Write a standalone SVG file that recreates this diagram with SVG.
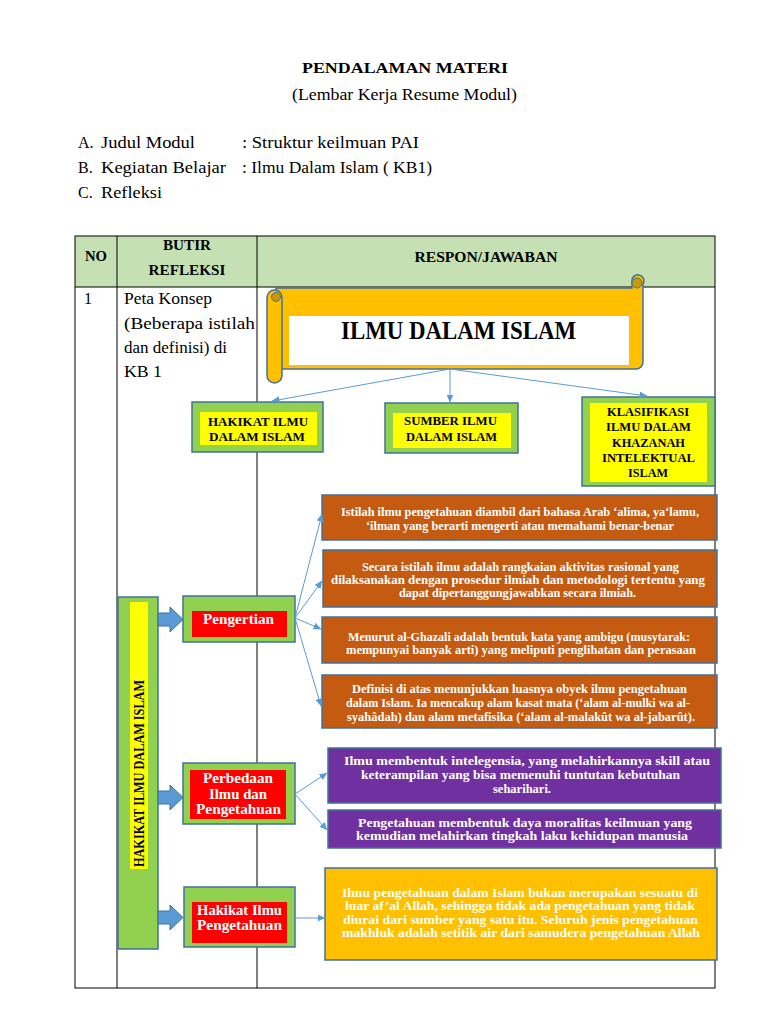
<svg xmlns="http://www.w3.org/2000/svg" width="768" height="1024" viewBox="0 0 768 1024">
<defs>
<style>
.tm{font-family:"Liberation Serif","Times New Roman",serif;fill:#000;font-size:16px}
.tmb{font-family:"Liberation Serif","Times New Roman",serif;fill:#000;font-size:14px;font-weight:bold}
.cb{font-family:"Liberation Serif","DejaVu Serif",serif;font-weight:bold}
.bx{font-family:"Liberation Serif","DejaVu Serif",serif;font-weight:bold;font-size:12.5px;fill:#fff}
.ol{stroke:#41719c;stroke-width:1.5}
.grn{fill:#92d050}
.yel{fill:#ffff00}
.red{fill:#ff0000}
.cn{stroke:#5b9bd5;stroke-width:1;fill:none;marker-end:url(#ah)}
.blk{fill:#5b9bd5;stroke:#41719c;stroke-width:1}
.tl{stroke:#000;stroke-width:1;fill:none}
</style>
<marker id="ah" markerUnits="userSpaceOnUse" markerWidth="8" markerHeight="7" refX="7.5" refY="3.5" orient="auto">
<path d="M0,0 L8,3.5 L0,7 z" fill="#5b9bd5"/>
</marker>
</defs>
<rect width="768" height="1024" fill="#fff"/>

<g id="title">
<text class="tmb" x="302" y="73" textLength="206" lengthAdjust="spacingAndGlyphs">PENDALAMAN MATERI</text>
<text class="tm" x="292" y="100" textLength="225" lengthAdjust="spacingAndGlyphs">(Lembar Kerja Resume Modul)</text>
<text class="tm" x="78" y="148">A.</text>
<text class="tm" x="101" y="148" textLength="94" lengthAdjust="spacingAndGlyphs">Judul Modul</text>
<text class="tm" x="242" y="148" textLength="177" lengthAdjust="spacingAndGlyphs">: Struktur keilmuan PAI</text>
<text class="tm" x="78" y="173">B.</text>
<text class="tm" x="101" y="173" textLength="125" lengthAdjust="spacingAndGlyphs">Kegiatan Belajar</text>
<text class="tm" x="242" y="173" textLength="190" lengthAdjust="spacingAndGlyphs">: Ilmu Dalam Islam ( KB1)</text>
<text class="tm" x="78" y="198">C.</text>
<text class="tm" x="101" y="198" textLength="61" lengthAdjust="spacingAndGlyphs">Refleksi</text>
</g>

<g id="table">
<rect x="75" y="236" width="640" height="51" fill="#c5e0b3"/>
<rect x="75" y="236" width="640" height="752" class="tl"/>
<line x1="75" y1="287" x2="715" y2="287" class="tl"/>
<line x1="117" y1="236" x2="117" y2="988" class="tl"/>
<line x1="257" y1="236" x2="257" y2="988" class="tl"/>
<text class="tmb" x="96" y="261" text-anchor="middle" textLength="22" lengthAdjust="spacingAndGlyphs">NO</text>
<text class="tmb" x="187" y="250" text-anchor="middle" textLength="48" lengthAdjust="spacingAndGlyphs">BUTIR</text>
<text class="tmb" x="187" y="275" text-anchor="middle" textLength="77" lengthAdjust="spacingAndGlyphs">REFLEKSI</text>
<text class="tmb" x="486" y="262" text-anchor="middle" textLength="143" lengthAdjust="spacingAndGlyphs">RESPON/JAWABAN</text>
<text class="tm" x="84" y="304">1</text>
<text class="tm" x="124" y="304" textLength="88" lengthAdjust="spacingAndGlyphs">Peta Konsep</text>
<text class="tm" x="124" y="329" textLength="131" lengthAdjust="spacingAndGlyphs">(Beberapa istilah</text>
<text class="tm" x="124" y="353" textLength="103" lengthAdjust="spacingAndGlyphs">dan definisi) di</text>
<text class="tm" x="124" y="377" textLength="38" lengthAdjust="spacingAndGlyphs">KB 1</text>
</g>

<g id="scroll">
<path d="M276,288 H632 V282 A6,6 0 1 1 643,284 V362 A7,7 0 0 1 636,369 H276 Z" fill="#ffc000" class="ol"/>
<circle cx="637" cy="283" r="5" fill="#cc9a00" stroke="#41719c" stroke-width="1"/>
<rect x="267" y="290" width="15" height="93" rx="7.5" fill="#ffc000" class="ol"/>
<circle cx="276" cy="297" r="4.5" fill="#cc9a00" stroke="#41719c" stroke-width="1"/>
<rect x="289" y="316" width="340" height="49" fill="#fff"/>
<text class="cb" x="341" y="339" font-size="26" fill="#000" textLength="235" lengthAdjust="spacingAndGlyphs">ILMU DALAM ISLAM</text>
</g>

<g id="hakikat-ilmu-dalam-islam">
<rect x="192" y="402" width="131" height="50" class="grn ol"/>
<rect x="200" y="412" width="117" height="33" class="yel"/>
<text class="cb" x="208" y="426" font-size="13" fill="#000" textLength="100" lengthAdjust="spacingAndGlyphs">HAKIKAT ILMU</text>
<text class="cb" x="209" y="441" font-size="13" fill="#000" textLength="96" lengthAdjust="spacingAndGlyphs">DALAM ISLAM</text>
</g>

<g id="sumber-ilmu">
<rect x="385" y="403" width="133" height="50" class="grn ol"/>
<rect x="393" y="413" width="118" height="35" class="yel"/>
<text class="cb" x="404" y="425" font-size="13" fill="#000" textLength="93" lengthAdjust="spacingAndGlyphs">SUMBER ILMU</text>
<text class="cb" x="406" y="441" font-size="13" fill="#000" textLength="91" lengthAdjust="spacingAndGlyphs">DALAM ISLAM</text>
</g>

<g id="klasifikasi">
<rect x="582" y="397" width="133" height="89" class="grn ol"/>
<rect x="590" y="403" width="117" height="79" class="yel"/>
<text class="cb" x="607" y="416" font-size="13" fill="#000" textLength="82" lengthAdjust="spacingAndGlyphs">KLASIFIKASI</text>
<text class="cb" x="606" y="431" font-size="13" fill="#000" textLength="85" lengthAdjust="spacingAndGlyphs">ILMU DALAM</text>
<text class="cb" x="612" y="447" font-size="13" fill="#000" textLength="73" lengthAdjust="spacingAndGlyphs">KHAZANAH</text>
<text class="cb" x="602" y="462" font-size="13" fill="#000" textLength="93" lengthAdjust="spacingAndGlyphs">INTELEKTUAL</text>
<text class="cb" x="628" y="477" font-size="13" fill="#000" textLength="40" lengthAdjust="spacingAndGlyphs">ISLAM</text>
</g>

<g id="hakikat-vertical">
<rect x="118" y="597" width="40" height="352" class="grn ol"/>
<rect x="130" y="602" width="18" height="267" class="yel"/>
<text class="cb" transform="translate(144,867) rotate(-90)" x="0" y="0" font-size="14" fill="#000" textLength="187" lengthAdjust="spacingAndGlyphs">HAKIKAT ILMU  DALAM ISLAM</text>
</g>

<g id="block-arrows">
<path d="M158,613 H170 V607 L183,619.5 L170,632 V626 H158 Z" class="blk"/>
<path d="M158,791 H170 V785 L183,797.5 L170,810 V804 H158 Z" class="blk"/>
<path d="M158,911 H170 V905 L183,917.5 L170,930 V924 H158 Z" class="blk"/>
</g>

<g id="pengertian">
<rect x="183" y="596" width="112" height="46" class="grn ol"/>
<rect x="192" y="611" width="95" height="26" class="red"/>
<text class="cb" x="203" y="624" font-size="14.5" fill="#fff" textLength="71" lengthAdjust="spacingAndGlyphs">Pengertian</text>
</g>

<g id="perbedaan">
<rect x="183" y="763" width="112" height="61" class="grn ol"/>
<rect x="190" y="770" width="96" height="49" class="red"/>
<text class="cb" x="203" y="783" font-size="14.5" fill="#fff" textLength="70" lengthAdjust="spacingAndGlyphs">Perbedaan</text>
<text class="cb" x="209" y="799" font-size="14.5" fill="#fff" textLength="58" lengthAdjust="spacingAndGlyphs">Ilmu dan</text>
<text class="cb" x="196" y="814" font-size="14.5" fill="#fff" textLength="85" lengthAdjust="spacingAndGlyphs">Pengetahuan</text>
</g>

<g id="hakikat-ilmu-pengetahuan">
<rect x="184" y="887" width="111" height="60" class="grn ol"/>
<rect x="192" y="902" width="95" height="41" class="red"/>
<text class="cb" x="197" y="915" font-size="14.5" fill="#fff" textLength="85" lengthAdjust="spacingAndGlyphs">Hakikat Ilmu</text>
<text class="cb" x="197" y="930" font-size="14.5" fill="#fff" textLength="85" lengthAdjust="spacingAndGlyphs">Pengetahuan</text>
</g>

<g id="def1">
<rect x="322" y="495" width="395" height="45" fill="#c55a11" class="ol"/>
<text class="bx" x="341" y="516" textLength="358" lengthAdjust="spacingAndGlyphs">Istilah ilmu pengetahuan diambil dari bahasa Arab ‘alima, ya‘lamu,</text>
<text class="bx" x="366" y="530" textLength="308" lengthAdjust="spacingAndGlyphs">‘ilman yang berarti mengerti atau memahami benar-benar</text>
</g>

<g id="def2">
<rect x="323" y="550" width="394" height="57" fill="#c55a11" class="ol"/>
<text class="bx" x="362" y="571" textLength="317" lengthAdjust="spacingAndGlyphs">Secara istilah ilmu adalah rangkaian aktivitas rasional yang</text>
<text class="bx" x="331" y="584" textLength="374" lengthAdjust="spacingAndGlyphs">dilaksanakan dengan prosedur  ilmiah dan metodologi  tertentu yang</text>
<text class="bx" x="399" y="597" textLength="237" lengthAdjust="spacingAndGlyphs">dapat  dipertanggungjawabkan secara ilmiah.</text>
</g>

<g id="def3">
<rect x="322" y="617" width="395" height="46" fill="#c55a11" class="ol"/>
<text class="bx" x="348" y="641" textLength="342" lengthAdjust="spacingAndGlyphs">Menurut al-Ghazali adalah bentuk kata yang ambigu (musytarak:</text>
<text class="bx" x="346" y="654" textLength="350" lengthAdjust="spacingAndGlyphs">mempunyai banyak arti) yang meliputi penglihatan dan perasaan</text>
</g>

<g id="def4">
<rect x="322" y="675" width="395" height="53" fill="#c55a11" class="ol"/>
<text class="bx" x="352" y="693" textLength="335" lengthAdjust="spacingAndGlyphs">Definisi di atas menunjukkan luasnya obyek ilmu pengetahuan</text>
<text class="bx" x="346" y="707" textLength="344" lengthAdjust="spacingAndGlyphs">dalam Islam. Ia mencakup alam kasat mata (‘alam al-mulki wa al-</text>
<text class="bx" x="347" y="721" textLength="348" lengthAdjust="spacingAndGlyphs">syahâdah) dan alam metafisika (‘alam al-malakût wa al-jabarût).</text>
</g>

<g id="beda1">
<rect x="328" y="748" width="393" height="55" fill="#7030a0" class="ol"/>
<text class="bx" x="344" y="765" textLength="366" lengthAdjust="spacingAndGlyphs">Ilmu membentuk intelegensia, yang melahirkannya skill atau</text>
<text class="bx" x="361" y="779" textLength="319" lengthAdjust="spacingAndGlyphs">keterampilan yang bisa memenuhi tuntutan kebutuhan</text>
<text class="bx" x="493" y="793" textLength="58" lengthAdjust="spacingAndGlyphs">seharihari.</text>
</g>

<g id="beda2">
<rect x="328" y="810" width="393" height="38" fill="#7030a0" class="ol"/>
<text class="bx" x="358" y="827" textLength="334" lengthAdjust="spacingAndGlyphs">Pengetahuan membentuk daya moralitas keilmuan yang</text>
<text class="bx" x="356" y="840" textLength="332" lengthAdjust="spacingAndGlyphs">kemudian melahirkan tingkah laku kehidupan manusia</text>
</g>

<g id="hakikat-detail">
<rect x="325" y="868" width="392" height="92" fill="#ffc000" class="ol"/>
<text class="bx" x="342" y="897" textLength="356" lengthAdjust="spacingAndGlyphs">Ilmu pengetahuan dalam Islam bukan merupakan sesuatu di</text>
<text class="bx" x="345" y="910" textLength="350" lengthAdjust="spacingAndGlyphs">luar af’al Allah, sehingga tidak ada pengetahuan yang tidak</text>
<text class="bx" x="343" y="924" textLength="355" lengthAdjust="spacingAndGlyphs">diurai dari sumber yang satu itu. Seluruh jenis pengetahuan</text>
<text class="bx" x="342" y="937" textLength="358" lengthAdjust="spacingAndGlyphs">makhluk adalah setitik air dari samudera pengetahuan Allah</text>
</g>

<g id="connectors">
<line x1="450" y1="369" x2="272" y2="401" class="cn"/>
<line x1="450" y1="369" x2="450" y2="402" class="cn"/>
<line x1="450" y1="369" x2="647" y2="396" class="cn"/>
<line x1="295" y1="618" x2="322" y2="514" class="cn"/>
<line x1="295" y1="618" x2="322" y2="581" class="cn"/>
<line x1="295" y1="618" x2="321" y2="629" class="cn"/>
<line x1="295" y1="618" x2="321" y2="706" class="cn"/>
<line x1="295" y1="794" x2="327" y2="773" class="cn"/>
<line x1="295" y1="794" x2="327" y2="830" class="cn"/>
<line x1="296" y1="918" x2="325" y2="918" class="cn"/>
</g>
</svg>
